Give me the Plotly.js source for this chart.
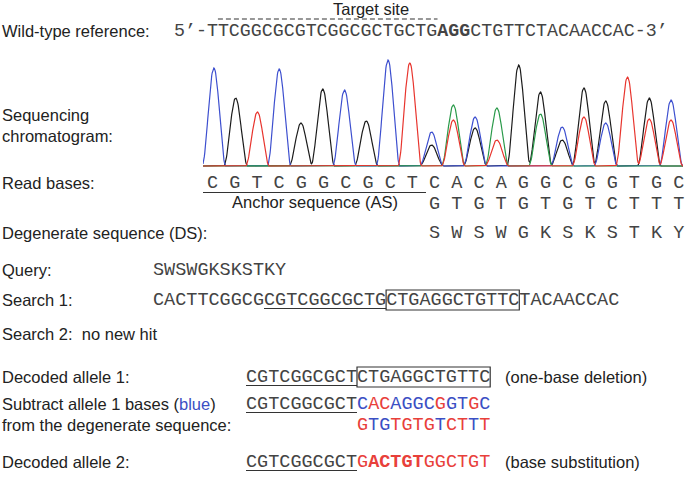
<!DOCTYPE html>
<html>
<head>
<meta charset="utf-8">
<script src="https://cdn.plot.ly/plotly-3.0.1.min.js"></script>
<style>body{margin:0;background:#fff}</style>
</head>
<body>
<div id="chart" style="width:685px;height:480px"></div>
<script>
// peak heights, one value per base call (22 calls)
var peakA = [0,0,0,0,0,0,0,0,0,0,0,61,0,58,0,52,0,0,0,0,0,0];
var peakC = [98,0,0,97,0,0,76,0,106,0,34,0,49,0,0,0,39,0,43,0,0,66];
var peakG = [0,68,0,0,43,77,0,45,0,0,21,0,38,0,101,74,26,78,65,0,68,0];
var peakT = [0,0,54,0,0,0,0,0,0,103,0,46,0,26,0,0,0,49,0,89,47,46];

var wildType = 'TTCGGCGCGTCGGCGCTGCTGAGGCTGTTCTACAACCAC';
var pam = 'AGG';
var readRow1 = ['C','G','T','C','G','G','C','G','C','T','C','A','C','A','G','G','C','G','G','T','G','C'];
var readRow2 = ['G','T','G','T','G','T','G','T','C','T','T','T'];
var degenerate = ['S','W','S','W','G','K','S','K','S','T','K','Y'];
var query = 'SWSWGKSKSTKY';
var search1 = 'CACTTCGGCGCGTCGGCGCTGCTGAGGCTGTTCTACAACCAC';
var anchor = 'CGTCGGCGCT';
var allele1 = 'CTGAGGCTGTTC';
var sub1 = 'CACAGGCGGTGC';
var sub1Col = ['b','r','r','b','b','b','b','r','b','b','r','b'];
var sub2 = 'GTGTGTGTCTTT';
var sub2Col = ['r','b','b','r','r','r','r','b','r','r','b','r'];
var allele2 = 'GACTGTGGCTGT';
var allele2Bold = [1,2,3,4,5];

var BLUE = '#3b4fc4', RED = '#e8403a', TXT = '#222';
var SANS = 'Liberation Sans, Arial, sans-serif';
var MONO = 'Liberation Mono, Courier New, monospace';
var FS = 16.5, MS = 18.5, CW = MS * 0.6;

// chromatogram traces
function curve(h){
    var xs = [], ys = [];
    for (var x = -0.5; x <= 21.6; x += 0.02) {
        var v = 0;
        for (var i = 0; i < h.length; i++) {
            var d = Math.abs(x - i);
            if (h[i] && d < 0.55) v += h[i] * Math.pow(Math.cos(Math.PI * d / 1.1), 2);
        }
        xs.push(x); ys.push(v);
    }
    return {xs: xs, ys: ys};
}
var channels = [[peakG,'#1c1c1c'],[peakC,'#3d4fcf'],[peakA,'#2a9a4a'],[peakT,'#e8352e']];
var data = channels.map(function(c){
    var k = curve(c[0]);
    return {type:'scatter', mode:'lines', x:k.xs, y:k.ys, xaxis:'x2', yaxis:'y2',
            line:{color:c[1], width:1.2}, hoverinfo:'skip', showlegend:false};
});

function lab(s, x, y, o){
    o = o || {};
    return {x:x, y:y, xref:'x', yref:'y', text:s, showarrow:false,
            xanchor:o.anchor || 'left', yanchor:'middle', borderpad:0, borderwidth:0,
            font:{family:o.family || SANS, size:o.size || FS, color:o.color || TXT}};
}
function seq(s, x, y, size){ return lab(s, x, y, {family:MONO, size:size || MS, color:'#444'}); }
function colorize(s, col){
    return s.split('').map(function(ch,i){
        return '<span style="color:' + (col[i]=='b' ? BLUE : RED) + '">' + ch + '</span>';
    }).join('');
}

var ann = [], shp = [];
function uline(x0, x1, y){ shp.push({type:'line', xref:'x', yref:'y', x0:x0, x1:x1, y0:y, y1:y, line:{color:'#333', width:1}}); }
function box(x0, x1, y0, y1){ shp.push({type:'rect', xref:'x', yref:'y', x0:x0, x1:x1, y0:y0, y1:y1, line:{color:'#333', width:1.2}}); }

// wild-type reference
var wtX = 174, wtS = 18.3, wtW = wtS * 0.6;
var p = wildType.indexOf(pam);
ann.push(lab('Target site', 333, 9));
shp.push({type:'line', xref:'x', yref:'y', x0:wtX + 4*wtW, x1:wtX + 24*wtW, y0:19, y1:19, line:{color:'#333', width:1.2, dash:'5px,3px'}});
ann.push(lab('Wild-type reference:', 2, 31));
ann.push(seq('5’-' + wildType.slice(0,p) + '<b>' + pam + '</b>' + wildType.slice(p+3) + '-3’', wtX, 31, wtS));

ann.push(lab('Sequencing', 2, 115));
ann.push(lab('chromatogram:', 2, 136));

// read bases
var rbX = 206.5;
ann.push(lab('Read bases:', 2, 183));
ann.push(seq(readRow1.join(' '), rbX, 183));
uline(203, 426, 192.5);
ann.push(lab('Anchor sequence (AS)', 315, 202, {anchor:'center'}));
ann.push(seq(readRow2.join(' '), rbX + 20*CW, 204));
ann.push(lab('Degenerate sequence (DS):', 2, 233));
ann.push(seq(degenerate.join(' '), rbX + 20*CW, 233));

ann.push(lab('Query:', 2, 270));
ann.push(seq(query, 153, 270));

// search 1
var sX = 153, a0 = search1.indexOf(anchor + 'G'), b0 = search1.indexOf(allele1);
ann.push(lab('Search 1:', 2, 300));
ann.push(seq(search1, sX, 300));
uline(sX + a0*CW, sX + (a0+11)*CW, 308.5);
box(sX + b0*CW, sX + (b0+12)*CW, 290, 310);
ann.push(lab('Search 2:  no new hit', 2, 334));

// decoded alleles
var dX = 246;
ann.push(lab('Decoded allele 1:', 2, 377));
ann.push(seq(anchor + allele1, dX, 377));
uline(dX, dX + 10*CW, 385.5);
box(dX + 10*CW, dX + 22*CW, 367, 387);
ann.push(lab('(one-base deletion)', 505, 377));

ann.push(lab('Subtract allele 1 bases (<span style="color:' + BLUE + '">blue</span>)', 2, 404));
ann.push(lab('from the degenerate sequence:', 2, 425));
ann.push(seq(anchor + colorize(sub1, sub1Col), dX, 404));
uline(dX, dX + 10*CW, 412.5);
ann.push(seq(colorize(sub2, sub2Col), dX + 10*CW, 425));

var a2 = allele2.split('').map(function(ch,i){
    return allele2Bold.indexOf(i) >= 0 ? '<b>' + ch + '</b>' : ch;
}).join('');
ann.push(lab('Decoded allele 2:', 2, 462));
ann.push(seq(anchor + '<span style="color:' + RED + '">' + a2 + '</span>', dX, 462));
uline(dX, dX + 10*CW, 470.5);
ann.push(lab('(base substitution)', 505, 462));

var layout = {
    width:685, height:480, margin:{l:0, r:0, t:0, b:0},
    paper_bgcolor:'#fff', plot_bgcolor:'rgba(0,0,0,0)', showlegend:false,
    xaxis:{range:[0,685], visible:false, domain:[0,1]},
    yaxis:{range:[480,0], visible:false, domain:[0,1]},
    xaxis2:{range:[-0.5,21.55], domain:[203/685, 683/685], anchor:'y2', visible:false},
    yaxis2:{range:[-1.5,110], domain:[(480-167.5)/480, (480-56)/480], anchor:'x2', visible:false},
    annotations:ann, shapes:shp
};

Plotly.newPlot('chart', data, layout, {staticPlot:true, displayModeBar:false});
</script>
</body>
</html>
